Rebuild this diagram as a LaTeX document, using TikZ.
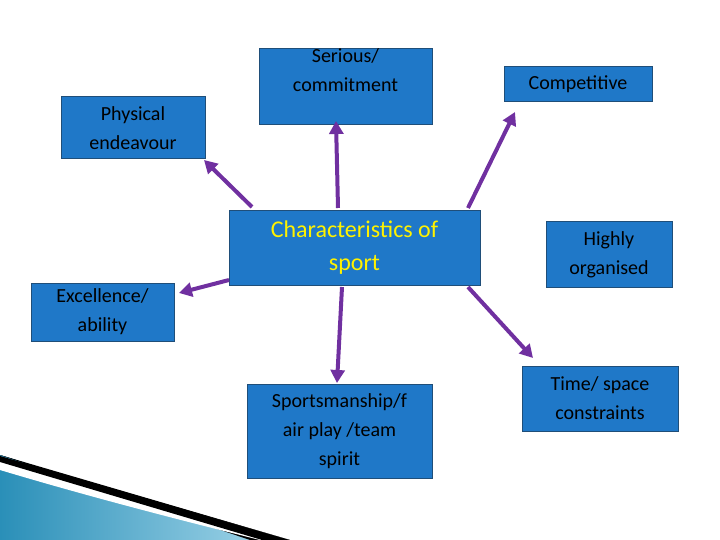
\documentclass[tikz,border=0pt]{standalone}
\usepackage{fontspec}
\setmainfont{Carlito}
\usetikzlibrary{arrows.meta}
\definecolor{boxblue}{HTML}{1F78C8}
\definecolor{boxline}{HTML}{1F4E79}
\definecolor{arr}{HTML}{7030A0}
\definecolor{teal1}{HTML}{2A8FB8}
\definecolor{teal2}{HTML}{9FD4E8}
\tikzset{
  bx/.style={draw=boxline,line width=1pt,fill=boxblue,align=center,inner sep=0pt,font=\fontsize{20}{29}\selectfont},
  con/.style={draw=arr,line width=4pt,-{Triangle[length=13pt,width=14pt]}}
}
\begin{document}
\begin{tikzpicture}[x=1pt,y=-1pt]
\useasboundingbox (0,0) rectangle (720,540);
\fill[left color=teal1,right color=teal2] (0,455) .. controls (80,480) and (180,515) .. (270,540) -- (0,540) -- cycle;
\fill[black] (0,455) -- (290,540) -- (250,540) -- cycle;
\fill[white] (0,470) .. controls (100,500) and (200,525) .. (260,540) -- (290,540) -- (0,458) -- cycle;
\fill[black] (0,456) -- (290,540) -- (262,540) -- (0,462) -- cycle;

\node[bx,minimum width=144,minimum height=62] (phy) at (133,128) {Physical\\endeavour};
\node[bx,minimum width=173,minimum height=65] (ser) at (345.5,86.5) {Serious/\\commitment\\[-4pt]\strut};
\node[bx,minimum width=148,minimum height=35] (com) at (578,84.5) {Competitive};
\node[bx,minimum width=251,minimum height=74,text=yellow,font=\fontsize{24}{33}\selectfont] (cha) at (354.5,248) {Characteristics of\\sport};
\node[bx,minimum width=126,minimum height=65] (hig) at (609,254.5) {Highly\\organised};
\node[bx,minimum width=143,minimum height=58] (exc) at (102.5,312) {Excellence/\\ability};
\node[bx,minimum width=185,minimum height=94] (spo) at (339.5,431) {Sportsmanship/f\\air play /team\\spirit};
\node[bx,minimum width=156,minimum height=65] (tim) at (600,398.5) {Time/ space\\constraints};

\coordinate (a1) at (252,207); \coordinate (b1) at (204,160);
\coordinate (a2) at (338,208); \coordinate (b2) at (336,121);
\coordinate (a3) at (468,208); \coordinate (b3) at (515,112);
\coordinate (a4) at (229,280); \coordinate (b4) at (179,293);
\coordinate (a5) at (342,287); \coordinate (b5) at (337,383);
\coordinate (a6) at (468,287); \coordinate (b6) at (533,358);
\draw[con] (a1) -- (b1);
\draw[con] (a2) -- (b2);
\draw[con] (a3) -- (b3);
\draw[con] (a4) -- (b4);
\draw[con] (a5) -- (b5);
\draw[con] (a6) -- (b6);
\end{tikzpicture}
\end{document}
